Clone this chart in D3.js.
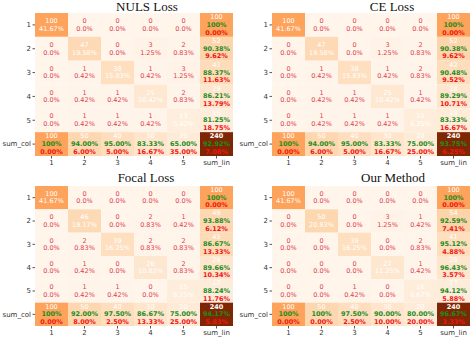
<!DOCTYPE html>
<html>
<head>
<meta charset="utf-8">
<script src="https://cdn.jsdelivr.net/npm/d3@7"></script>
<style>
  body { margin: 0; background: #fff; }
  svg { display: block; }
</style>
</head>
<body>
<svg id="chart" width="474" height="337"></svg>
<script>
// chart data
const titles = ["NULS Loss", "CE Loss", "Focal Loss", "Our Method"];
const classes = ["1", "2", "3", "4", "5"];
const rowLabels = ["1", "2", "3", "4", "5", "sum_col"];
const colLabels = ["1", "2", "3", "4", "5", "sum_lin"];

// confusion matrices (rows x cols)
const nuls = [
  [100, 0, 0, 0, 0],
  [0, 47, 0, 3, 2],
  [0, 1, 38, 1, 3],
  [0, 1, 1, 25, 2],
  [0, 1, 1, 1, 13]
];
const ce = [
  [100, 0, 0, 0, 0],
  [0, 47, 0, 3, 2],
  [0, 1, 38, 1, 2],
  [0, 1, 1, 25, 1],
  [0, 1, 1, 1, 15]
];
const focal = [
  [100, 0, 0, 0, 0],
  [0, 46, 0, 2, 1],
  [0, 2, 39, 2, 2],
  [0, 1, 0, 26, 2],
  [0, 1, 1, 0, 15]
];
const ours = [
  [100, 0, 0, 0, 0],
  [0, 50, 0, 3, 1],
  [0, 0, 39, 0, 2],
  [0, 0, 0, 27, 1],
  [0, 0, 1, 0, 16]
];
const matrices = [nuls, ce, focal, ours];

// panel layout
const panels = [
  {x: [35, 233], y: [13, 156], tx: 147, ty: 11},
  {x: [272, 470], y: [13, 156], tx: 392, ty: 11},
  {x: [35, 233], y: [186, 326], tx: 146, ty: 182},
  {x: [272, 470], y: [186, 326], tx: 393, ty: 182}
];

const svg = d3.select("#chart");
const color = d3.scaleSequential(d3.interpolateOranges).domain([0, 240]);
const fs = 6.5;
const offColor = "#e2404f", green = "#1e8c1e", red = "#f01414";

function pct(v, total, zeroStr) {
  if (v === 0) return zeroStr;
  if (v === total) return "100%";
  return (100 * v / total).toFixed(2) + "%";
}

function drawPanel(m, p, title) {
  const g = svg.append("g");
  const x = d3.scaleBand().domain(colLabels).range(p.x);
  const y = d3.scaleBand().domain(rowLabels).range(p.y);
  const total = d3.sum(m.flat());
  const rowSum = m.map(r => d3.sum(r));
  const colSum = classes.map((c, j) => d3.sum(m, r => r[j]));
  const diag = classes.map((c, i) => m[i][i]);

  // build cells
  const cells = [];
  m.forEach((row, i) => row.forEach((v, j) => {
    cells.push({r: rowLabels[i], c: colLabels[j], v: v,
      lines: [[String(v), i === j ? "#fff" : offColor, false],
              [pct(v, total, "0.0%"), i === j ? "#fff" : offColor, false]]});
  }));
  classes.forEach((c, i) => {
    cells.push({r: rowLabels[i], c: "sum_lin", v: rowSum[i], lines: [
      [String(rowSum[i]), "#fff", false],
      [pct(diag[i], rowSum[i], "0.00%"), green, true],
      [pct(rowSum[i] - diag[i], rowSum[i], "0.00%"), red, true]]});
    cells.push({r: "sum_col", c: colLabels[i], v: colSum[i], lines: [
      [String(colSum[i]), "#fff", false],
      [pct(diag[i], colSum[i], "0.00%"), green, true],
      [pct(colSum[i] - diag[i], colSum[i], "0.00%"), red, true]]});
  });
  const dsum = d3.sum(diag);
  cells.push({r: "sum_col", c: "sum_lin", v: total, lines: [
    [String(total), "#fff", true],
    [pct(dsum, total, "0.00%"), green, true],
    [pct(total - dsum, total, "0.00%"), red, true]]});

  g.selectAll("rect").data(cells).enter().append("rect")
    .attr("x", d => x(d.c))
    .attr("y", d => y(d.r))
    .attr("width", x.bandwidth())
    .attr("height", y.bandwidth())
    .attr("fill", d => color(d.v));

  const lh = 7.6;
  cells.forEach(d => {
    const cx = x(d.c) + x.bandwidth() / 2;
    const cy = y(d.r) + y.bandwidth() / 2;
    const n = d.lines.length;
    d.lines.forEach((l, k) => {
      g.append("text")
        .attr("x", cx)
        .attr("y", cy + (k - (n - 1) / 2) * lh)
        .attr("text-anchor", "middle")
        .attr("dominant-baseline", "central")
        .attr("font-family", "DejaVu Sans")
        .attr("font-size", fs)
        .attr("font-weight", l[2] ? "bold" : "normal")
        .attr("fill", l[1])
        .text(l[0]);
    });
  });

  // axes
  const yAxis = d3.axisLeft(y).tickSize(2.5).tickPadding(1.5);
  const xAxis = d3.axisBottom(x).tickSize(2.5).tickPadding(1.5);
  const ya = g.append("g").attr("transform", `translate(${p.x[0]},0)`).call(yAxis);
  const xa = g.append("g").attr("transform", `translate(0,${p.y[1]})`).call(xAxis);
  [ya, xa].forEach(a => {
    a.select(".domain").remove();
    a.selectAll("line").attr("stroke", "#555");
    a.selectAll("text").attr("font-family", "DejaVu Sans").attr("font-size", 7).attr("fill", "#333");
  });

  g.append("text")
    .attr("x", p.tx).attr("y", p.ty)
    .attr("text-anchor", "middle")
    .attr("font-family", "Liberation Serif")
    .attr("font-size", 13)
    .attr("fill", "#111")
    .text(title);
}

matrices.forEach((m, i) => drawPanel(m, panels[i], titles[i]));
</script>
</body>
</html>
